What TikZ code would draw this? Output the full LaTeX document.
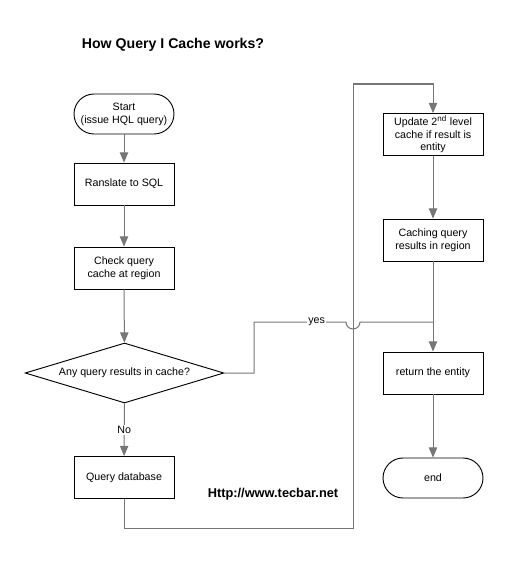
\documentclass[tikz,border=0pt]{standalone}
\usepackage{fontspec}
\setmainfont{Liberation Sans}
\usepackage{tikz}
\usetikzlibrary{arrows,shapes.geometric}
\definecolor{linegray}{RGB}{118,118,118}

\tikzset{
	stepbox/.style={draw=black, line width=0.7pt, minimum width=75pt, minimum height=31.5pt, inner sep=1pt, align=center, font=\fontsize{8}{9.6}\selectfont},
	termbox/.style={stepbox, rounded corners=15pt, minimum height=30pt},
	decbox/.style={draw=black, line width=0.7pt, diamond, aspect=3.3, minimum width=149pt, minimum height=45pt, inner sep=0pt, font=\fontsize{8}{9.6}\selectfont},
	flow/.style={draw=linegray, line width=0.75pt, -triangle 45},
	plain/.style={draw=linegray, line width=0.75pt},
}

\begin{document}
\begin{tikzpicture}[x=0.75pt, y=-0.75pt]
	\useasboundingbox (0,0) rectangle (531,567);

	% title
	\node[font=\bfseries\fontsize{10.6}{12}\selectfont] (title) at (173,45) {How Query I Cache works?};

	% left column
	\node[termbox] (start) at (124,114) {Start\\(issue HQL query)};
	\node[stepbox] (sql) at (124,184) {Ranslate to SQL};
	\node[stepbox] (check) at (124,268) {Check query\\cache at region};
	\node[decbox] (any) at (124.5,373) {Any query results in cache?};
	\node[stepbox] (qdb) at (124,477.5) {Query database};

	% right column
	\node[stepbox] (upd) at (433,134.5) {Update 2\textsuperscript{nd} level\\cache if result is\\entity};
	\node[stepbox] (cache) at (433,240) {Caching query\\results in region};
	\node[stepbox] (ret) at (433,373) {return the entity};
	\node[termbox] (end) at (433,478) {end};

	\node[font=\bfseries\fontsize{9.6}{11}\selectfont] (site) at (273,494) {Http://www.tecbar.net};

	% routing points
	\coordinate (railbot) at (353,528);
	\coordinate (railtop) at (353,84);
	\coordinate (yesup) at (254,322);
	\coordinate (hop) at (346,322);
	\coordinate (join) at (433,322);

	\draw[flow] (start) -- (sql);
	\draw[flow] (sql) -- (check);
	\draw[flow] (check) -- (any);
	\draw[flow] (any) -- node[fill=white, inner sep=1pt, font=\fontsize{8}{9.6}\selectfont] {No} (qdb);
	\draw[flow] (qdb.south) |- (railbot) -- (railtop) -| (upd.north);
	\draw[flow] (upd) -- (cache);
	\draw[flow] (cache) -- (ret);
	\draw[flow] (ret) -- (end);

	% yes branch, hopping over the rail
	\draw[plain] (any.east) -| (yesup) -- node[pos=0.68, fill=white, inner sep=1pt, font=\fontsize{8}{9.6}\selectfont] {yes} (hop)
		arc[start angle=180, end angle=0, radius=7] -- (join);

\end{tikzpicture}
\end{document}
